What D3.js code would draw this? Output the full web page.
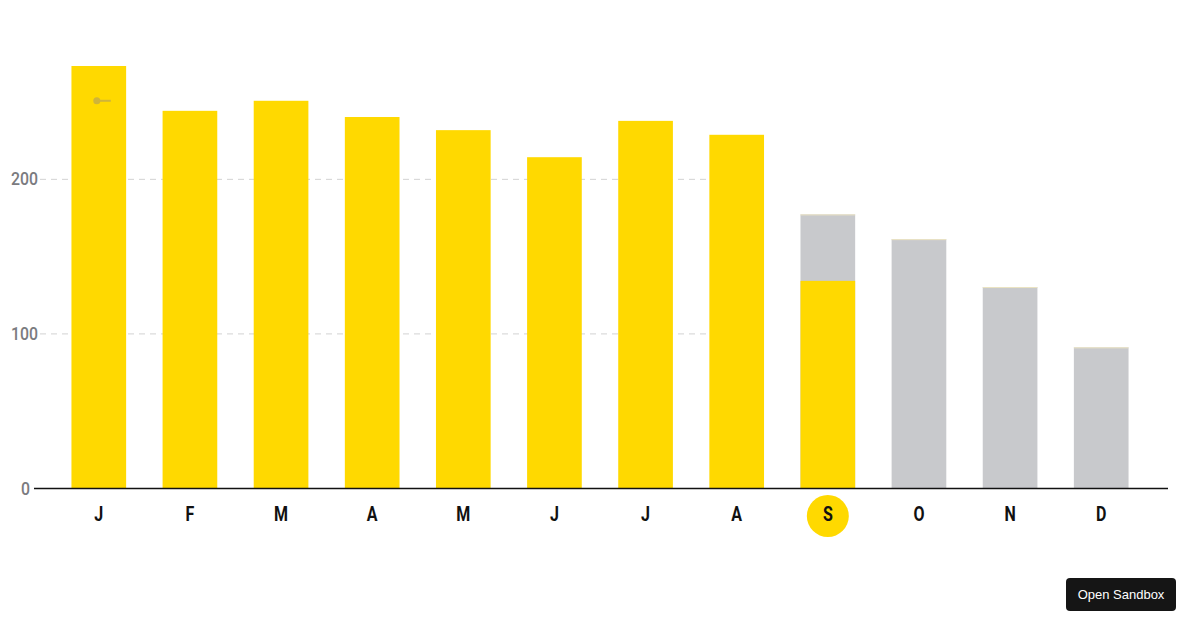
<!DOCTYPE html>
<html><head><meta charset="utf-8">
<script src="https://cdn.jsdelivr.net/npm/d3@7"></script>
<style>
html,body{margin:0;padding:0;background:#fff;}
svg{display:block;}
.btn{position:absolute;left:1066px;top:578px;width:110px;height:33px;background:#151515;color:#fff;border-radius:4px;font:13px "Liberation Sans",Arial,sans-serif;display:flex;align-items:center;justify-content:center;}
</style></head>
<body>
<div id="chart"></div>
<div class="btn">Open Sandbox</div>
<script>
const months = ["J","F","M","A","M","J","J","A","S","O","N","D"];
const actual = [273,244,250.5,240,231.5,214,237.5,228.5,134,null,null,null];
const forecast = [null,null,null,null,null,null,null,null,177,161,130,91];
const yTicks = [0,100,200];
const currentIndex = 8;
const markerValue = 250.5;

const W=1200,H=630;
const svg=d3.select("#chart").append("svg").attr("width",W).attr("height",H);
const idx = months.map((d,i)=>i);
const x=d3.scaleBand().domain(idx).range([35,1165]).padding(0.4);
const y=d3.scaleLinear().domain([0,d3.max(actual.concat(forecast))]).range([488,66]);
const FONT = "Roboto,'DejaVu Sans',sans-serif";

// gridlines
const gridEnd = x(7)+x.bandwidth()/2;
svg.append("g").selectAll("line").data(yTicks.filter(t=>t>0)).join("line")
  .attr("x1",40).attr("x2",gridEnd).attr("y1",d=>y(d)+0.5).attr("y2",d=>y(d)+0.5)
  .attr("stroke","#d2d2d2").attr("stroke-width",1).attr("stroke-dasharray","6,5");

// y labels
const yAxis=svg.append("g").attr("transform","translate(38,0)")
  .call(d3.axisLeft(y).tickValues(yTicks).tickSize(0).tickPadding(0));
yAxis.select(".domain").remove();
yAxis.selectAll("text").attr("fill","#7b7b80").attr("dy","0.34em")
  .attr("x",d=>d===0?-9:0)
  .attr("transform","scale(0.88,1)")
  .style("font-family",FONT)
  .style("font-size","18px").style("font-weight","500");

// forecast bars
const fData = idx.filter(i=>forecast[i]!=null);
svg.append("g").selectAll("rect").data(fData).join("rect")
  .attr("x",i=>x(i)).attr("width",x.bandwidth())
  .attr("y",i=>y(forecast[i])).attr("height",i=>y(0)-y(forecast[i]))
  .attr("fill","#c8c9cc");
svg.append("g").selectAll("line").data(fData).join("line")
  .attr("x1",i=>x(i)).attr("x2",i=>x(i)+x.bandwidth())
  .attr("y1",i=>y(forecast[i])+0.5).attr("y2",i=>y(forecast[i])+0.5)
  .attr("stroke","#ece4c2").attr("stroke-width",1);

// actual bars
const aData = idx.filter(i=>actual[i]!=null);
svg.append("g").selectAll("rect").data(aData).join("rect")
  .attr("x",i=>x(i)).attr("width",x.bandwidth())
  .attr("y",i=>y(actual[i])).attr("height",i=>y(0)-y(actual[i]))
  .attr("fill","#ffd900");

// marker
const mx = x(0)+x.bandwidth()/2-2;
svg.append("line").attr("x1",mx).attr("x2",mx+14).attr("y1",y(markerValue)).attr("y2",y(markerValue))
  .attr("stroke","#cfb43a").attr("stroke-width",2);
svg.append("circle").attr("cx",mx).attr("cy",y(markerValue)).attr("r",3.5).attr("fill","#cfb43a");

// x axis
svg.append("line").attr("x1",34).attr("x2",1168).attr("y1",y(0)+0.5).attr("y2",y(0)+0.5)
  .attr("stroke","#111").attr("stroke-width",1.5);

svg.append("circle").attr("cx",x(currentIndex)+x.bandwidth()/2).attr("cy",516).attr("r",21).attr("fill","#ffd900");

const xAxis=svg.append("g").attr("transform",`translate(0,${y(0)})`)
  .call(d3.axisBottom(x).tickFormat(i=>months[i]).tickSize(0).tickPadding(19));
xAxis.select(".domain").remove();
xAxis.selectAll("text").attr("fill","#111").attr("x",0)
  .attr("transform","scale(0.8,1)")
  .style("font-family",FONT)
  .style("font-size","20px").style("font-weight","700");
</script>
</body></html>
